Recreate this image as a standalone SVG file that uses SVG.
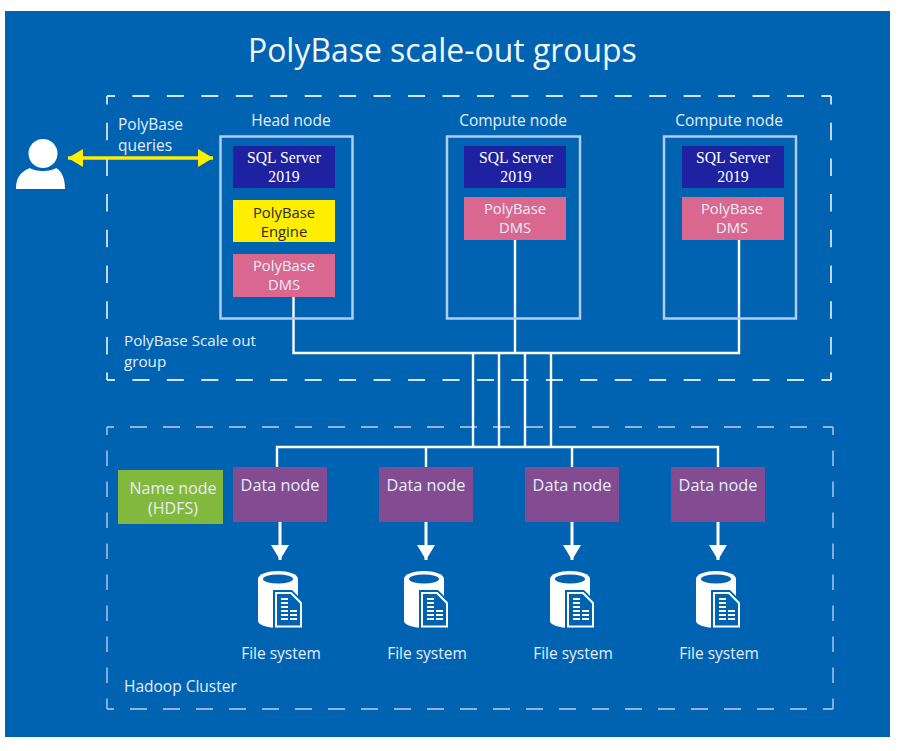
<svg xmlns="http://www.w3.org/2000/svg" xmlns:xlink="http://www.w3.org/1999/xlink" width="903" height="751" viewBox="0 0 903 751">
<style>
text{font-family:"Open Sans","Noto Sans","Liberation Sans",sans-serif;font-size:15.5px;fill:#e6eef8}
.c{text-anchor:middle}
.st{font-size:14.8px}
.dn{font-size:16.3px}
.nn{font-size:16px}
.serif{font-family:"Liberation Serif","DejaVu Serif",serif;font-size:15.7px;fill:#fff}
.wire{fill:none;stroke:#fff;stroke-width:2.4}
.arrow{fill:none;stroke:#fff;stroke-width:3;marker-end:url(#wa)}
.box{fill:none;stroke:#b4cbe8;stroke-width:2.5}
.sql{fill:#1e22a0}.dms{fill:#d9678f}.data{fill:#834c92}
.d1{fill:none;stroke:#d5e2f2;stroke-width:1.8}
.d2{fill:none;stroke:#8fb4dc;stroke-width:1.8}
</style>
<defs>
<g id="fs">
<path d="M-22 8C-22 3-12 0-2 0S18 3 18 8V50C18 54 8 57-2 57S-22 54-22 50Z" fill="#fff"/>
<ellipse cx="-2" cy="8" rx="15" ry="4.500" fill="#0063b1"/>
<path d="M-7 19H12L24 31V58H-7Z" fill="#0063b1"/>
<path d="M-5 21H11.500L22 31.500V56.500H-5Z" fill="#fff"/>
<path d="M-3 23H10.500L20 32.500V54.500H-3Z" fill="#0063b1"/>
<path d="M1 27H8V29H1ZM1 31H8V33H1ZM1 35H8V37H1ZM1 39H8V41H1ZM10 39H17V41H10ZM1 43H8V45H1ZM10 43H17V45H10ZM1 47H8V49H1ZM10 47H17V49H10Z" fill="#fff"/>
</g>
<marker id="ya" markerWidth="16" markerHeight="18" refX="15" refY="9" orient="auto-start-reverse" markerUnits="userSpaceOnUse"><path d="M0 0L15 9L0 18Z" fill="#ffee00"/></marker>
<marker id="wa" markerWidth="18" markerHeight="16" refX="9" refY="15" orient="0" markerUnits="userSpaceOnUse"><path d="M0 0H18L9 15Z" fill="#fff"/></marker>
</defs>
<rect x="5" y="11" width="885" height="726" fill="#0063b1"/>
<text id="title" x="248" y="62" style="font-size:31.900px;fill:#f2f6fb">PolyBase scale-out groups</text>

<g id="scaleout-group">
<path class="d1" d="M107 96H831M107 380H831" stroke-dasharray="17 17.450" stroke-dashoffset="9"/>
<path class="d1" d="M107 96V380M831 96V380" stroke-dasharray="17.500 18.200" stroke-dashoffset="9"/>
<text x="124" y="346" style="font-size:15.200px">PolyBase Scale out</text><text x="124" y="367" style="font-size:15.200px">group</text>
</g>
<g id="hadoop-cluster">
<path class="d2" d="M107 427H833M107 709H833" stroke-dasharray="17 16" stroke-dashoffset="10"/>
<path class="d2" d="M107 427V709M833 427V709" stroke-dasharray="15.500 15.500" stroke-dashoffset="7.500"/>
<text x="124" y="692">Hadoop Cluster</text>
</g>

<g id="connectors">
<path class="wire" d="M293.500 297V353H739V240M515 240V353M473 353V447M499 353V447M525 353V447M551 353V447"/>
<path class="wire" d="M277 467V447H718V467M426 447V467M572 447V467"/>
<path d="M68 158H213" fill="none" stroke="#ffee00" stroke-width="3.500" marker-start="url(#ya)" marker-end="url(#ya)"/>
<path class="arrow" d="M280 522V560"/><path class="arrow" d="M426 522V560"/><path class="arrow" d="M572 522V560"/><path class="arrow" d="M718 522V560"/>
</g>

<g id="user">
<circle cx="43" cy="153.500" r="14.500" fill="#fff"/>
<path d="M16 189C16 178 20 172 30 168C35 172 51 172 56 168C62 171 65 179 65 189Z" fill="#fff"/>
</g>
<text id="queries-label" x="118" y="130">PolyBase<tspan x="118" y="151">queries</tspan></text>

<g id="head-node">
<rect class="box" x="220.500" y="136.500" width="132" height="182"/>
<text class="c" x="291" y="126">Head node</text>
<rect class="sql" x="233" y="146" width="102" height="42"/>
<text class="c serif" x="284" y="163">SQL Server</text><text class="c serif" x="284" y="182">2019</text>
<rect x="233" y="200" width="102" height="42" fill="#ffee00"/>
<text class="c st" x="284" y="218" style="fill:#2a2a2a">PolyBase</text><text class="c st" x="284" y="237" style="fill:#2a2a2a">Engine</text>
<rect class="dms" x="233" y="254" width="102" height="43"/>
<text class="c st" x="284" y="271">PolyBase</text><text class="c st" x="284" y="290">DMS</text>
</g>
<g id="compute-node-1">
<rect class="box" x="447" y="136.500" width="133" height="182"/>
<text class="c" x="513" y="126">Compute node</text>
<rect class="sql" x="464" y="146" width="102" height="42"/>
<text class="c serif" x="516" y="163">SQL Server</text><text class="c serif" x="516" y="182">2019</text>
<rect class="dms" x="464" y="197" width="102" height="43"/>
<text class="c st" x="515" y="214">PolyBase</text><text class="c st" x="515" y="233">DMS</text>
</g>
<g id="compute-node-2">
<rect class="box" x="664" y="136.500" width="132" height="182"/>
<text class="c" x="729" y="126">Compute node</text>
<rect class="sql" x="682" y="146" width="102" height="42"/>
<text class="c serif" x="733" y="163">SQL Server</text><text class="c serif" x="733" y="182">2019</text>
<rect class="dms" x="682" y="197" width="102" height="43"/>
<text class="c st" x="732" y="214">PolyBase</text><text class="c st" x="732" y="233">DMS</text>
</g>

<g id="name-node">
<rect x="118" y="470" width="105" height="54" fill="#82b93c"/>
<text class="c nn" x="173" y="494">Name node</text><text class="c nn" x="173" y="514">(HDFS)</text>
</g>
<g id="data-node-1"><rect class="data" x="233" y="467" width="94" height="55"/><text class="c dn" x="280" y="491">Data node</text></g>
<g id="data-node-2"><rect class="data" x="379" y="467" width="94" height="55"/><text class="c dn" x="426" y="491">Data node</text></g>
<g id="data-node-3"><rect class="data" x="525" y="467" width="94" height="55"/><text class="c dn" x="572" y="491">Data node</text></g>
<g id="data-node-4"><rect class="data" x="671" y="467" width="94" height="55"/><text class="c dn" x="718" y="491">Data node</text></g>

<g id="file-system-1"><use xlink:href="#fs" href="#fs" x="280" y="571"/><text class="c" x="281" y="659">File system</text></g>
<g id="file-system-2"><use xlink:href="#fs" href="#fs" x="426" y="571"/><text class="c" x="427" y="659">File system</text></g>
<g id="file-system-3"><use xlink:href="#fs" href="#fs" x="572" y="571"/><text class="c" x="573" y="659">File system</text></g>
<g id="file-system-4"><use xlink:href="#fs" href="#fs" x="718" y="571"/><text class="c" x="719" y="659">File system</text></g>
</svg>
